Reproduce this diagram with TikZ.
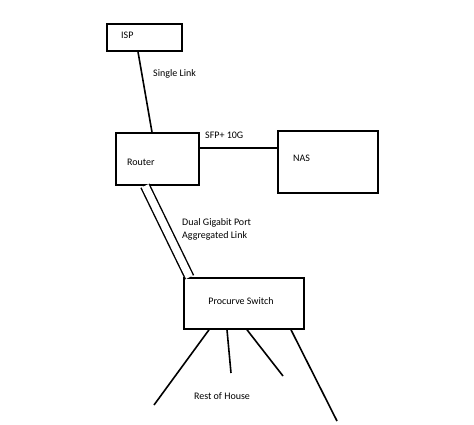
\documentclass[tikz,border=0pt]{standalone}
\usepackage{fontspec}
\setmainfont{Carlito}
\usetikzlibrary{calc}

\tikzset{
  box/.style={draw,line width=1.6pt,inner sep=0pt},
  lbl/.style={font=\fontsize{10}{13}\selectfont,inner sep=0pt},
  wire/.style={line width=1.6pt},
}

\begin{document}
\begin{tikzpicture}[x=1pt,y=-1pt]
\useasboundingbox (0,0) rectangle (474,424);

\node[box,minimum width=75,minimum height=27] (isp) at (144.5,37.5) {};
\node[box,minimum width=83,minimum height=52] (router) at (157.5,159) {};
\node[box,minimum width=100,minimum height=62] (nas) at (328,162) {};
\node[box,minimum width=120,minimum height=51] (switch) at (244,303.5) {};

\node[lbl,anchor=west] (ispt) at (121,35) {ISP};
\node[lbl,anchor=west] (routert) at (127,162) {Router};
\node[lbl,anchor=west] (nast) at (293,158) {NAS};
\node[lbl] (switcht) at (241,301) {Procurve Switch};

\draw[wire] ([xshift=-6.5]isp.south) -- ([xshift=-5.5]router.north);
\node[lbl,anchor=west] (single) at (153,74) {Single Link};

\draw[wire] ([yshift=11]router.east) -- ([yshift=14]nas.west);
\node[lbl,anchor=west] (sfp) at (205,135) {SFP+ 10G};

\draw[line width=1.4pt,double,double distance=7.5pt] ([xshift=-12.5]router.south) -- ([xshift=-54.5]switch.north);
\node[lbl,anchor=west,align=left] (dual) at (182,229.5) {Dual Gigabit Port\\Aggregated Link};

\coordinate (h1) at (154,405);
\coordinate (h2) at (231,373);
\coordinate (h3) at (283,376);
\coordinate (h4) at (337,421);
\draw[wire] ([xshift=-35]switch.south) -- (h1);
\draw[wire] ([xshift=-17]switch.south) -- (h2);
\draw[wire] ([xshift=3]switch.south) -- (h3);
\draw[wire] ([xshift=47]switch.south) -- (h4);
\node[lbl] (rest) at (222,396) {Rest of House};

\end{tikzpicture}
\end{document}
